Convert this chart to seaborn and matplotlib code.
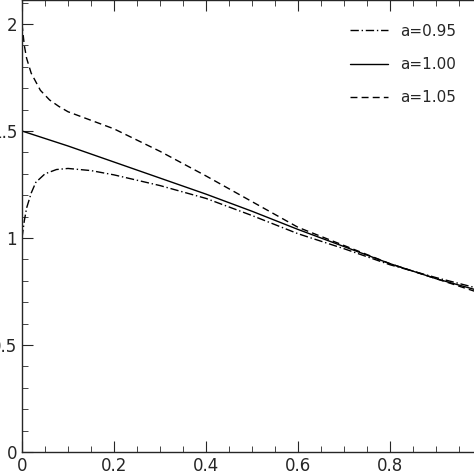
import matplotlib
matplotlib.use("Agg")
import matplotlib.pyplot as plt
import seaborn as sns
from matplotlib.ticker import MultipleLocator

sns.set_style("ticks")
plt.rcParams['font.family'] = ['DejaVu Sans']

x_a095 = [0, 0.005, 0.01, 0.02, 0.03, 0.05, 0.075, 0.1, 0.15, 0.2, 0.3, 0.4, 0.5, 0.6, 0.7, 0.8, 0.9, 1.0]
y_a095 = [1.0, 1.08, 1.14, 1.21, 1.26, 1.30, 1.32, 1.325, 1.315, 1.295, 1.245, 1.185, 1.105, 1.02, 0.95, 0.875, 0.815, 0.76]
x_a100 = [0, 0.1, 0.2, 0.3, 0.4, 0.5, 0.6, 0.7, 0.8, 0.9, 1.0]
y_a100 = [1.5, 1.43, 1.355, 1.28, 1.205, 1.125, 1.04, 0.96, 0.88, 0.81, 0.75]
x_a105 = [0, 0.005, 0.01, 0.02, 0.04, 0.06, 0.08, 0.1, 0.15, 0.2, 0.3, 0.4, 0.5, 0.6, 0.7, 0.8, 0.9, 1.0]
y_a105 = [2.0, 1.9, 1.84, 1.77, 1.69, 1.645, 1.615, 1.59, 1.55, 1.51, 1.405, 1.29, 1.17, 1.05, 0.965, 0.88, 0.81, 0.74]

fig = plt.figure(figsize=(4.74, 4.74), dpi=100)
ax = fig.add_axes([22/474, 22/474, 1.0, 452/474])
sns.lineplot(x=x_a095, y=y_a095, ax=ax, color='black', lw=1, linestyle=(0, (6, 2, 1, 2)), label='a=0.95')
sns.lineplot(x=x_a100, y=y_a100, ax=ax, color='black', lw=1, linestyle='-', label='a=1.00')
sns.lineplot(x=x_a105, y=y_a105, ax=ax, color='black', lw=1, linestyle=(0, (5, 3)), label='a=1.05')
ax.set_xlim(0, 474/460)
ax.set_ylim(0, 452/214)
ax.xaxis.set_major_locator(MultipleLocator(0.2))
ax.xaxis.set_minor_locator(MultipleLocator(0.05))
ax.yaxis.set_major_locator(MultipleLocator(0.5))
ax.yaxis.set_minor_locator(MultipleLocator(0.1))
ax.xaxis.set_major_formatter(lambda v, p: f"{v:g}")
ax.yaxis.set_major_formatter(lambda v, p: f"{v:g}")
ax.tick_params(which='both', direction='in', top=True, right=True, labelsize=12)
ax.tick_params(which='major', length=8)
ax.tick_params(which='minor', length=4)
for s in ax.spines.values():
    s.set_linewidth(1)
ax.legend(loc='upper right', bbox_to_anchor=(470/474, 1 - 10/474), bbox_transform=fig.transFigure,
          frameon=False, fontsize=11, handlelength=2.5, labelspacing=1.2)
fig.savefig("out.png", dpi=100)
